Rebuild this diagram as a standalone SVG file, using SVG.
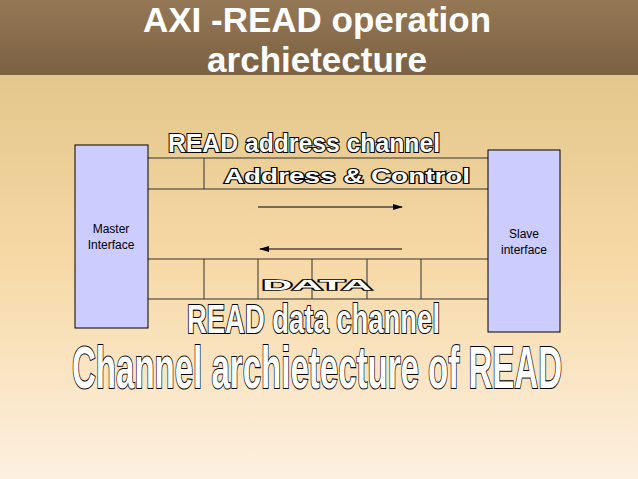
<svg xmlns="http://www.w3.org/2000/svg" width="638" height="479" viewBox="0 0 638 479">
<defs>
<linearGradient id="hd" x1="0" y1="0" x2="0" y2="1"><stop offset="0" stop-color="#957856"/><stop offset="1" stop-color="#7b6142"/></linearGradient>
<linearGradient id="bg" x1="0" y1="0" x2="0" y2="1"><stop offset="0" stop-color="#dcbf7f"/><stop offset="0.55" stop-color="#f6d9a6"/><stop offset="1" stop-color="#fdf0e0"/></linearGradient>
<marker id="ah" markerWidth="10" markerHeight="8" refX="9" refY="4" orient="auto" markerUnits="userSpaceOnUse"><path d="M0,1 L10,4 L0,7 Z" fill="#000"/></marker>
<style>
.box{fill:#ccccff;stroke:#000;stroke-width:1}
.ln{stroke:#333;stroke-width:1;fill:none}
.lbl{font-family:"Liberation Sans",Arial,sans-serif;font-size:12px;fill:#000}
.wa{font-family:"Liberation Sans",Arial,sans-serif;font-weight:bold;fill:#fff;stroke:#000;stroke-width:2.2;paint-order:stroke}
.ttl{font-family:"Liberation Sans",Arial,sans-serif;font-weight:bold;font-size:35px;fill:#fff;text-anchor:middle}
</style>
</defs>
<rect width="638" height="479" fill="url(#bg)"/>
<rect width="638" height="75" fill="url(#hd)"/>
<text class="ttl" x="317" y="32">AXI -READ operation</text>
<text class="ttl" x="317" y="72">archietecture</text>
<g id="connectors">
<line class="ln" x1="148" y1="158" x2="488" y2="158"/>
<line class="ln" x1="148" y1="189" x2="488" y2="189"/>
<line class="ln" x1="204" y1="158" x2="204" y2="189"/>
<line class="ln" x1="148" y1="259" x2="488" y2="259"/>
<line class="ln" x1="148" y1="299" x2="488" y2="299"/>
<line class="ln" x1="204" y1="259" x2="204" y2="299"/>
<line class="ln" x1="258" y1="259" x2="258" y2="299"/>
<line class="ln" x1="312" y1="259" x2="312" y2="299"/>
<line class="ln" x1="367" y1="259" x2="367" y2="299"/>
<line class="ln" x1="421" y1="259" x2="421" y2="299"/>
<line x1="258" y1="207" x2="402" y2="207" stroke="#000" marker-end="url(#ah)"/>
<line x1="402" y1="249" x2="260" y2="249" stroke="#000" marker-end="url(#ah)"/>
</g>
<g id="master"><rect class="box" x="75" y="145" width="73" height="183"/><text class="lbl" x="111" y="233" text-anchor="middle">Master</text><text class="lbl" x="111" y="249" text-anchor="middle">Interface</text></g>
<g id="slave"><rect class="box" x="488" y="150" width="72" height="182"/><text class="lbl" x="524" y="238" text-anchor="middle">Slave</text><text class="lbl" x="524" y="254" text-anchor="middle">interface</text></g>
<text class="wa" x="168" y="152" font-size="26" textLength="272" lengthAdjust="spacingAndGlyphs">READ address channel</text>
<text class="wa" x="224" y="183" font-size="21" textLength="246" lengthAdjust="spacingAndGlyphs">Address &amp; Control</text>
<text class="wa" transform="translate(262,290) scale(1,0.7)" x="0" y="0" font-size="20" textLength="110" lengthAdjust="spacingAndGlyphs">DATA</text>
<text class="wa" x="187" y="333" font-size="40" textLength="253" lengthAdjust="spacingAndGlyphs">READ data channel</text>
<text class="wa" x="72" y="388" font-size="60" stroke-width="2.6" textLength="490" lengthAdjust="spacingAndGlyphs">Channel archietecture of READ</text>
</svg>
